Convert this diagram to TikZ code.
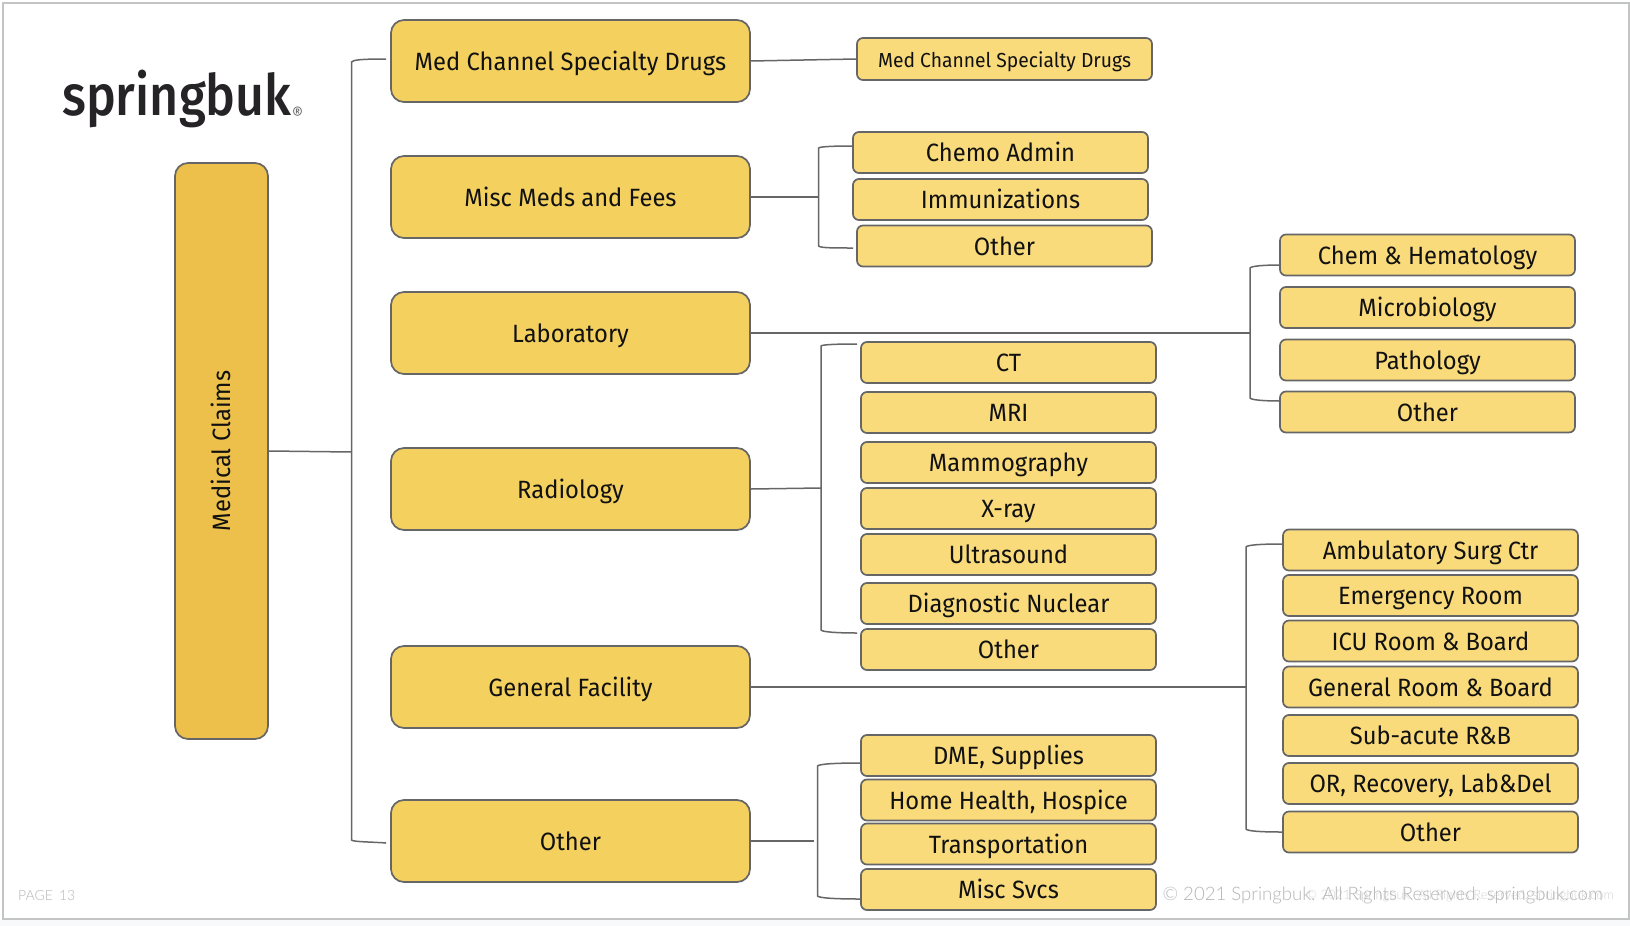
\documentclass[tikz,border=0pt]{standalone}
\usepackage{fontspec}
\setmainfont{Fira Sans}[FakeStretch=0.95]
\newfontfamily\logof{Fira Sans Medium}[FakeStretch=0.88]
\newfontfamily\lightf{Lato Light}
\definecolor{bordergray}{HTML}{C2C5C3}
\definecolor{linegray}{HTML}{666666}
\definecolor{mainfill}{HTML}{ECC04B}
\definecolor{midfill}{HTML}{F4D05F}
\definecolor{leaffill}{HTML}{F9DB7C}
\definecolor{ink}{HTML}{111111}
\definecolor{logoink}{HTML}{252326}
\definecolor{footgray}{HTML}{B5B5B5}
\definecolor{pagebg}{HTML}{F8F9FB}
\tikzset{
  x=1pt,y=-1pt,
  basebox/.style={draw=linegray,line width=1.7pt,inner sep=0pt,text=ink,align=center,text height=23pt,text depth=5pt},
  midbox/.style={basebox,fill=midfill,rounded corners=13pt,minimum width=359pt,minimum height=82pt,font=\fontsize{25}{29}\selectfont,text height=24pt},
  leafbox/.style={basebox,fill=leaffill,rounded corners=6pt,minimum width=295pt,minimum height=41pt,font=\fontsize{25}{29}\selectfont},
  conn/.style={draw=linegray,line width=1.5pt},
}
% box: name, centre x, centre y, text
\newcommand{\midb}[4]{\node[midbox] (#1) at (#2,#3) {#4};}
\newcommand{\leafb}[4]{\node[leafbox] (#1) at (#2,#3) {#4};}
\begin{document}
\begin{tikzpicture}
\useasboundingbox (0,0) rectangle (1630,926);
\fill[pagebg] (0,0) rectangle (1630,926);
\fill[white] (0,0) rectangle (1630,920);
\draw[bordergray,line width=2.4pt] (3,3) rectangle (1629,919);

% logo
\node[anchor=base west,inner sep=0pt,text=logoink,font=\logof\fontsize{57}{60}\selectfont] (logo) at (62,115.5) {springbuk};
\node[anchor=base west,inner sep=0pt,text=logoink!70,font=\fontsize{18}{20}\selectfont] (reg) at (292,120) {®};

% root
\node[basebox,fill=mainfill,rounded corners=13pt,minimum width=93pt,minimum height=576pt] (root) at (221.5,451) {};
\node[rotate=90,text=ink,inner sep=0pt,font=\fontsize{25}{29}\selectfont,text height=23pt,text depth=5pt] (roottext) at (221.5,451) {Medical Claims};

% level one
\midb{m1}{570.5}{61}{Med Channel Specialty Drugs}
\midb{m2}{570.5}{197}{Misc Meds and Fees}
\midb{m3}{570.5}{333}{Laboratory}
\midb{m4}{570.5}{489}{Radiology}
\midb{m5}{570.5}{687}{General Facility}
\midb{m6}{570.5}{841}{Other}

% med channel
\node[leafbox,minimum height=42pt,font=\fontsize{20.3}{24}\selectfont,text height=21pt] (a1) at (1004.5,59) {Med Channel Specialty Drugs};
% misc
\leafb{b1}{1000.5}{152.5}{Chemo Admin}
\leafb{b2}{1000.5}{199.5}{Immunizations}
\leafb{b3}{1004.5}{246}{Other}
% lab
\leafb{c1}{1427.5}{255}{Chem \& Hematology}
\leafb{c2}{1427.5}{307.5}{Microbiology}
\leafb{c3}{1427.5}{360}{Pathology}
\leafb{c4}{1427.5}{412}{Other}
% radiology
\leafb{d1}{1008.5}{362.5}{CT}
\leafb{d2}{1008.5}{412.5}{MRI}
\leafb{d3}{1008.5}{462.5}{Mammography}
\leafb{d4}{1008.5}{508.5}{X-ray}
\leafb{d5}{1008.5}{554.5}{Ultrasound}
\leafb{d6}{1008.5}{603.5}{Diagnostic Nuclear}
\leafb{d7}{1008.5}{649.5}{Other}
% facility
\leafb{e1}{1430.5}{550}{Ambulatory Surg Ctr}
\leafb{e2}{1430.5}{595.5}{Emergency Room}
\leafb{e3}{1430.5}{641}{ICU Room \& Board}
\leafb{e4}{1430.5}{687}{General Room \& Board}
\leafb{e5}{1430.5}{735.5}{Sub-acute R\&B}
\leafb{e6}{1430.5}{783.5}{OR, Recovery, Lab\&Del}
\leafb{e7}{1430.5}{832}{Other}
% other
\leafb{f1}{1008.5}{755.5}{DME, Supplies}
\leafb{f2}{1008.5}{800}{Home Health, Hospice}
\leafb{f3}{1008.5}{844}{Transportation}
\leafb{f4}{1008.5}{889.5}{Misc Svcs}

% connectors
\coordinate (rbt) at (351.5,62);
\coordinate (rbb) at (351.5,840);
\draw[conn] (root.east) -- (351.5,452);
\draw[conn] ([xshift=-4pt,yshift=2pt]m1.west) .. controls (360,59) and (353,60) .. (rbt) -- (rbb) .. controls (353,842) and (375,842) .. ([xshift=-4pt,yshift=-2pt]m6.west);

\draw[conn] (m1.east) -- (a1.west);

\coordinate (bt) at (818.7,148);
\coordinate (bb) at (818.7,246);
\draw[conn] (m2.east) -- (818.7,197);
\draw[conn] ([yshift=6.5pt]b1.west) .. controls (835,146) and (820,146.5) .. (bt) -- (bb) .. controls (820,248) and (835,248) .. ([xshift=-3pt,yshift=-2pt]b3.west);

\coordinate (ct) at (1250,268);
\coordinate (cb) at (1250,398);
\draw[conn] (m3.east) -- (1250,333);
\draw[conn] ([yshift=-10pt]c1.west) .. controls (1265,265) and (1251,266) .. (ct) -- (cb) .. controls (1251,400) and (1265,401) .. ([yshift=11pt]c4.west);

\coordinate (dt) at (821,346);
\coordinate (db) at (821,630);
\draw[conn] (m4.east) -- (821,488);
\draw[conn] ([xshift=-3pt,yshift=18.5pt]d1.west) .. controls (838,344) and (822,344.5) .. (dt) -- (db) .. controls (822,632) and (838,633) .. ([xshift=-3pt,yshift=16.5pt]d7.west);

\coordinate (et) at (1246,547);
\coordinate (eb) at (1246,829);
\draw[conn] (m5.east) -- (1246,687);
\draw[conn] ([yshift=6pt]e1.west) .. controls (1260,544) and (1247,545) .. (et) -- (eb) .. controls (1247,831) and (1260,832) .. (e7.west);

\coordinate (ft) at (817.5,766);
\coordinate (fb) at (817.5,896);
\draw[conn] (m6.east) -- (814,841);
\draw[conn] ([yshift=-7.5pt]f1.west) .. controls (835,763) and (819,764) .. (ft) -- (fb) .. controls (819,898) and (835,899) .. ([yshift=-9.5pt]f4.west);

% footer
\node[anchor=base east,inner sep=0pt,text=footgray!60,font=\lightf\fontsize{13}{15}\selectfont] (foot2) at (1614,899) {© 2021 Springbuk. All Rights Reserved. springbuk.com};
\node[anchor=base east,inner sep=0pt,text=footgray,font=\lightf\fontsize{18.6}{22}\selectfont] (foot1) at (1603,900) {© 2021 Springbuk. All Rights Reserved. springbuk.com};
\node[anchor=base west,inner sep=0pt,text=footgray,font=\lightf\fontsize{14}{16}\selectfont] (page) at (18,900) {PAGE\, 13};
\end{tikzpicture}
\end{document}
